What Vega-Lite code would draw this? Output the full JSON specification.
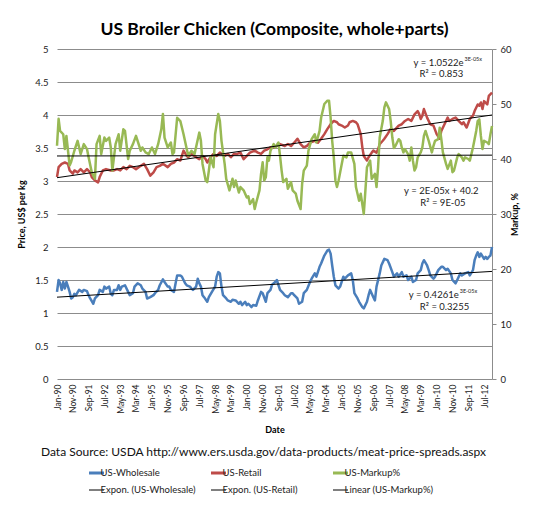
{
  "$schema": "https://vega.github.io/schema/vega-lite/v6.json",
  "width": 435,
  "height": 330,
  "autosize": {"type": "none"},
  "padding": {"left": 57, "top": 49, "right": 53, "bottom": 136},
  "title": {
    "text": "US Broiler Chicken (Composite, whole+parts)",
    "font": "Lato",
    "fontSize": 17.5,
    "fontWeight": "bold",
    "color": "#000000",
    "anchor": "middle",
    "frame": "group",
    "offset": 6
  },
  "datasets": {
    "w": [
      {"d": "1990/1/1", "v": 1.32}, {"d": "1990/2/1", "v": 1.50}, {"d": "1990/3/1", "v": 1.45}, {"d": "1990/4/1", "v": 1.35},
      {"d": "1990/5/1", "v": 1.47}, {"d": "1990/6/1", "v": 1.37}, {"d": "1990/7/1", "v": 1.47}, {"d": "1990/8/1", "v": 1.40},
      {"d": "1990/9/1", "v": 1.32}, {"d": "1990/10/1", "v": 1.22}, {"d": "1990/11/1", "v": 1.24}, {"d": "1990/12/1", "v": 1.29},
      {"d": "1991/1/1", "v": 1.27}, {"d": "1991/3/1", "v": 1.35}, {"d": "1991/5/1", "v": 1.32}, {"d": "1991/6/1", "v": 1.35},
      {"d": "1991/8/1", "v": 1.33}, {"d": "1991/9/1", "v": 1.27}, {"d": "1991/10/1", "v": 1.22}, {"d": "1991/12/1", "v": 1.14},
      {"d": "1992/1/1", "v": 1.22}, {"d": "1992/3/1", "v": 1.27}, {"d": "1992/4/1", "v": 1.35}, {"d": "1992/6/1", "v": 1.32},
      {"d": "1992/7/1", "v": 1.40}, {"d": "1992/8/1", "v": 1.37}, {"d": "1992/10/1", "v": 1.40}, {"d": "1992/11/1", "v": 1.29},
      {"d": "1992/12/1", "v": 1.27}, {"d": "1993/1/1", "v": 1.35}, {"d": "1993/3/1", "v": 1.35}, {"d": "1993/4/1", "v": 1.42},
      {"d": "1993/5/1", "v": 1.35}, {"d": "1993/6/1", "v": 1.40}, {"d": "1993/8/1", "v": 1.42}, {"d": "1993/10/1", "v": 1.32},
      {"d": "1993/11/1", "v": 1.27}, {"d": "1994/1/1", "v": 1.30}, {"d": "1994/2/1", "v": 1.40}, {"d": "1994/4/1", "v": 1.45},
      {"d": "1994/6/1", "v": 1.42}, {"d": "1994/7/1", "v": 1.37}, {"d": "1994/9/1", "v": 1.32}, {"d": "1994/10/1", "v": 1.22},
      {"d": "1994/12/1", "v": 1.24}, {"d": "1995/2/1", "v": 1.27}, {"d": "1995/3/1", "v": 1.30}, {"d": "1995/5/1", "v": 1.35},
      {"d": "1995/6/1", "v": 1.42}, {"d": "1995/8/1", "v": 1.51}, {"d": "1995/9/1", "v": 1.47}, {"d": "1995/11/1", "v": 1.40},
      {"d": "1995/12/1", "v": 1.40}, {"d": "1996/1/1", "v": 1.35}, {"d": "1996/3/1", "v": 1.32}, {"d": "1996/4/1", "v": 1.45},
      {"d": "1996/5/1", "v": 1.57}, {"d": "1996/7/1", "v": 1.57}, {"d": "1996/8/1", "v": 1.55}, {"d": "1996/10/1", "v": 1.45},
      {"d": "1996/11/1", "v": 1.42}, {"d": "1997/1/1", "v": 1.40}, {"d": "1997/2/1", "v": 1.37}, {"d": "1997/3/1", "v": 1.35},
      {"d": "1997/5/1", "v": 1.40}, {"d": "1997/6/1", "v": 1.52}, {"d": "1997/7/1", "v": 1.45}, {"d": "1997/8/1", "v": 1.40},
      {"d": "1997/9/1", "v": 1.27}, {"d": "1997/10/1", "v": 1.24}, {"d": "1997/12/1", "v": 1.17}, {"d": "1998/1/1", "v": 1.24},
      {"d": "1998/3/1", "v": 1.32}, {"d": "1998/5/1", "v": 1.40}, {"d": "1998/6/1", "v": 1.55}, {"d": "1998/7/1", "v": 1.62},
      {"d": "1998/8/1", "v": 1.60}, {"d": "1998/9/1", "v": 1.40}, {"d": "1998/10/1", "v": 1.27}, {"d": "1998/12/1", "v": 1.22},
      {"d": "1999/1/1", "v": 1.19}, {"d": "1999/3/1", "v": 1.17}, {"d": "1999/4/1", "v": 1.20}, {"d": "1999/6/1", "v": 1.19},
      {"d": "1999/8/1", "v": 1.14}, {"d": "1999/9/1", "v": 1.17}, {"d": "1999/10/1", "v": 1.12}, {"d": "1999/12/1", "v": 1.17},
      {"d": "2000/1/1", "v": 1.12}, {"d": "2000/2/1", "v": 1.14}, {"d": "2000/4/1", "v": 1.09}, {"d": "2000/5/1", "v": 1.12},
      {"d": "2000/7/1", "v": 1.11}, {"d": "2000/8/1", "v": 1.19}, {"d": "2000/10/1", "v": 1.32}, {"d": "2000/11/1", "v": 1.30},
      {"d": "2001/1/1", "v": 1.17}, {"d": "2001/2/1", "v": 1.30}, {"d": "2001/4/1", "v": 1.35}, {"d": "2001/5/1", "v": 1.43},
      {"d": "2001/7/1", "v": 1.47}, {"d": "2001/8/1", "v": 1.50}, {"d": "2001/10/1", "v": 1.35}, {"d": "2001/12/1", "v": 1.30},
      {"d": "2002/1/1", "v": 1.27}, {"d": "2002/3/1", "v": 1.24}, {"d": "2002/5/1", "v": 1.30}, {"d": "2002/6/1", "v": 1.30},
      {"d": "2002/7/1", "v": 1.27}, {"d": "2002/9/1", "v": 1.22}, {"d": "2002/10/1", "v": 1.14}, {"d": "2002/12/1", "v": 1.17},
      {"d": "2003/1/1", "v": 1.30}, {"d": "2003/3/1", "v": 1.35}, {"d": "2003/5/1", "v": 1.47}, {"d": "2003/6/1", "v": 1.52},
      {"d": "2003/8/1", "v": 1.60}, {"d": "2003/9/1", "v": 1.55}, {"d": "2003/11/1", "v": 1.70}, {"d": "2003/12/1", "v": 1.75},
      {"d": "2004/2/1", "v": 1.87}, {"d": "2004/4/1", "v": 1.95}, {"d": "2004/5/1", "v": 1.96}, {"d": "2004/6/1", "v": 1.90},
      {"d": "2004/7/1", "v": 1.72}, {"d": "2004/8/1", "v": 1.55}, {"d": "2004/9/1", "v": 1.42}, {"d": "2004/11/1", "v": 1.37},
      {"d": "2004/12/1", "v": 1.40}, {"d": "2005/2/1", "v": 1.55}, {"d": "2005/3/1", "v": 1.52}, {"d": "2005/5/1", "v": 1.57},
      {"d": "2005/7/1", "v": 1.60}, {"d": "2005/8/1", "v": 1.50}, {"d": "2005/9/1", "v": 1.30}, {"d": "2005/11/1", "v": 1.22},
      {"d": "2005/12/1", "v": 1.17}, {"d": "2006/2/1", "v": 1.09}, {"d": "2006/3/1", "v": 1.07}, {"d": "2006/5/1", "v": 1.17},
      {"d": "2006/6/1", "v": 1.27}, {"d": "2006/7/1", "v": 1.35}, {"d": "2006/9/1", "v": 1.24}, {"d": "2006/10/1", "v": 1.19},
      {"d": "2006/11/1", "v": 1.40}, {"d": "2007/1/1", "v": 1.60}, {"d": "2007/2/1", "v": 1.72}, {"d": "2007/4/1", "v": 1.82},
      {"d": "2007/6/1", "v": 1.80}, {"d": "2007/7/1", "v": 1.75}, {"d": "2007/9/1", "v": 1.62}, {"d": "2007/10/1", "v": 1.55},
      {"d": "2007/12/1", "v": 1.60}, {"d": "2008/1/1", "v": 1.55}, {"d": "2008/3/1", "v": 1.62}, {"d": "2008/4/1", "v": 1.55},
      {"d": "2008/6/1", "v": 1.57}, {"d": "2008/7/1", "v": 1.50}, {"d": "2008/9/1", "v": 1.55}, {"d": "2008/10/1", "v": 1.47},
      {"d": "2008/12/1", "v": 1.50}, {"d": "2009/1/1", "v": 1.60}, {"d": "2009/3/1", "v": 1.65}, {"d": "2009/4/1", "v": 1.75},
      {"d": "2009/5/1", "v": 1.80}, {"d": "2009/7/1", "v": 1.72}, {"d": "2009/8/1", "v": 1.65}, {"d": "2009/9/1", "v": 1.57},
      {"d": "2009/11/1", "v": 1.52}, {"d": "2009/12/1", "v": 1.55}, {"d": "2010/2/1", "v": 1.65}, {"d": "2010/4/1", "v": 1.70},
      {"d": "2010/5/1", "v": 1.70}, {"d": "2010/7/1", "v": 1.65}, {"d": "2010/8/1", "v": 1.67}, {"d": "2010/10/1", "v": 1.60},
      {"d": "2010/11/1", "v": 1.50}, {"d": "2011/1/1", "v": 1.45}, {"d": "2011/2/1", "v": 1.50}, {"d": "2011/4/1", "v": 1.60},
      {"d": "2011/5/1", "v": 1.57}, {"d": "2011/7/1", "v": 1.60}, {"d": "2011/9/1", "v": 1.62}, {"d": "2011/10/1", "v": 1.57},
      {"d": "2011/12/1", "v": 1.65}, {"d": "2012/1/1", "v": 1.80}, {"d": "2012/2/1", "v": 1.87}, {"d": "2012/3/1", "v": 1.92},
      {"d": "2012/4/1", "v": 1.85}, {"d": "2012/5/1", "v": 1.90}, {"d": "2012/7/1", "v": 1.82}, {"d": "2012/8/1", "v": 1.85},
      {"d": "2012/9/1", "v": 1.82}, {"d": "2012/10/1", "v": 1.85}, {"d": "2012/11/1", "v": 1.87}, {"d": "2012/12/1", "v": 2.00}
    ],
    "r": [
      {"d": "1990/1/1", "v": 3.06}, {"d": "1990/2/1", "v": 3.21}, {"d": "1990/4/1", "v": 3.26}, {"d": "1990/6/1", "v": 3.28},
      {"d": "1990/8/1", "v": 3.26}, {"d": "1990/9/1", "v": 3.16}, {"d": "1990/11/1", "v": 3.11}, {"d": "1990/12/1", "v": 3.16},
      {"d": "1991/2/1", "v": 3.13}, {"d": "1991/4/1", "v": 3.18}, {"d": "1991/6/1", "v": 3.13}, {"d": "1991/8/1", "v": 3.18},
      {"d": "1991/10/1", "v": 3.13}, {"d": "1991/11/1", "v": 3.06}, {"d": "1992/1/1", "v": 3.01}, {"d": "1992/3/1", "v": 2.98},
      {"d": "1992/4/1", "v": 3.06}, {"d": "1992/6/1", "v": 3.16}, {"d": "1992/8/1", "v": 3.18}, {"d": "1992/11/1", "v": 3.16},
      {"d": "1993/1/1", "v": 3.16}, {"d": "1993/3/1", "v": 3.18}, {"d": "1993/5/1", "v": 3.16}, {"d": "1993/7/1", "v": 3.21},
      {"d": "1993/9/1", "v": 3.18}, {"d": "1993/11/1", "v": 3.23}, {"d": "1994/1/1", "v": 3.21}, {"d": "1994/3/1", "v": 3.18},
      {"d": "1994/6/1", "v": 3.23}, {"d": "1994/8/1", "v": 3.26}, {"d": "1994/10/1", "v": 3.18}, {"d": "1994/12/1", "v": 3.08},
      {"d": "1995/2/1", "v": 3.13}, {"d": "1995/4/1", "v": 3.21}, {"d": "1995/6/1", "v": 3.23}, {"d": "1995/8/1", "v": 3.26},
      {"d": "1995/11/1", "v": 3.21}, {"d": "1996/1/1", "v": 3.26}, {"d": "1996/3/1", "v": 3.28}, {"d": "1996/5/1", "v": 3.33},
      {"d": "1996/7/1", "v": 3.31}, {"d": "1996/9/1", "v": 3.46}, {"d": "1996/11/1", "v": 3.38}, {"d": "1996/12/1", "v": 3.36},
      {"d": "1997/2/1", "v": 3.41}, {"d": "1997/5/1", "v": 3.36}, {"d": "1997/7/1", "v": 3.33}, {"d": "1997/9/1", "v": 3.38},
      {"d": "1997/11/1", "v": 3.33}, {"d": "1997/12/1", "v": 3.28}, {"d": "1998/2/1", "v": 3.36}, {"d": "1998/4/1", "v": 3.41},
      {"d": "1998/6/1", "v": 3.38}, {"d": "1998/8/1", "v": 3.43}, {"d": "1998/11/1", "v": 3.38}, {"d": "1999/1/1", "v": 3.41},
      {"d": "1999/3/1", "v": 3.36}, {"d": "1999/5/1", "v": 3.41}, {"d": "1999/7/1", "v": 3.41}, {"d": "1999/9/1", "v": 3.43},
      {"d": "1999/11/1", "v": 3.33}, {"d": "2000/1/1", "v": 3.38}, {"d": "2000/3/1", "v": 3.43}, {"d": "2000/6/1", "v": 3.46},
      {"d": "2000/8/1", "v": 3.43}, {"d": "2000/10/1", "v": 3.41}, {"d": "2000/12/1", "v": 3.46}, {"d": "2001/2/1", "v": 3.48},
      {"d": "2001/4/1", "v": 3.51}, {"d": "2001/6/1", "v": 3.51}, {"d": "2001/8/1", "v": 3.53}, {"d": "2001/10/1", "v": 3.56},
      {"d": "2002/1/1", "v": 3.53}, {"d": "2002/3/1", "v": 3.56}, {"d": "2002/5/1", "v": 3.53}, {"d": "2002/7/1", "v": 3.58},
      {"d": "2002/9/1", "v": 3.64}, {"d": "2002/11/1", "v": 3.56}, {"d": "2003/1/1", "v": 3.51}, {"d": "2003/3/1", "v": 3.53},
      {"d": "2003/5/1", "v": 3.58}, {"d": "2003/8/1", "v": 3.61}, {"d": "2003/10/1", "v": 3.58}, {"d": "2003/12/1", "v": 3.64},
      {"d": "2004/2/1", "v": 3.71}, {"d": "2004/4/1", "v": 3.79}, {"d": "2004/6/1", "v": 3.86}, {"d": "2004/8/1", "v": 3.91},
      {"d": "2004/10/1", "v": 3.89}, {"d": "2004/11/1", "v": 3.86}, {"d": "2005/1/1", "v": 3.84}, {"d": "2005/3/1", "v": 3.81},
      {"d": "2005/5/1", "v": 3.84}, {"d": "2005/6/1", "v": 3.89}, {"d": "2005/8/1", "v": 3.91}, {"d": "2005/10/1", "v": 3.89},
      {"d": "2005/11/1", "v": 3.86}, {"d": "2006/1/1", "v": 3.71}, {"d": "2006/2/1", "v": 3.51}, {"d": "2006/3/1", "v": 3.38},
      {"d": "2006/5/1", "v": 3.31}, {"d": "2006/6/1", "v": 3.36}, {"d": "2006/8/1", "v": 3.43}, {"d": "2006/9/1", "v": 3.46},
      {"d": "2006/11/1", "v": 3.43}, {"d": "2006/12/1", "v": 3.48}, {"d": "2007/1/1", "v": 3.56}, {"d": "2007/3/1", "v": 3.61},
      {"d": "2007/4/1", "v": 3.64}, {"d": "2007/6/1", "v": 3.71}, {"d": "2007/8/1", "v": 3.79}, {"d": "2007/10/1", "v": 3.76},
      {"d": "2008/1/1", "v": 3.84}, {"d": "2008/3/1", "v": 3.86}, {"d": "2008/5/1", "v": 3.91}, {"d": "2008/7/1", "v": 3.94},
      {"d": "2008/9/1", "v": 3.91}, {"d": "2008/11/1", "v": 4.01}, {"d": "2009/1/1", "v": 4.06}, {"d": "2009/2/1", "v": 4.01},
      {"d": "2009/3/1", "v": 3.94}, {"d": "2009/4/1", "v": 3.99}, {"d": "2009/5/1", "v": 4.09}, {"d": "2009/7/1", "v": 3.96},
      {"d": "2009/9/1", "v": 3.86}, {"d": "2009/11/1", "v": 3.84}, {"d": "2010/1/1", "v": 3.71}, {"d": "2010/3/1", "v": 3.64},
      {"d": "2010/4/1", "v": 3.76}, {"d": "2010/6/1", "v": 3.86}, {"d": "2010/8/1", "v": 3.96}, {"d": "2010/9/1", "v": 3.91},
      {"d": "2010/11/1", "v": 3.94}, {"d": "2011/1/1", "v": 3.96}, {"d": "2011/3/1", "v": 3.91}, {"d": "2011/5/1", "v": 3.86},
      {"d": "2011/6/1", "v": 3.89}, {"d": "2011/8/1", "v": 3.81}, {"d": "2011/10/1", "v": 3.94}, {"d": "2011/12/1", "v": 3.99},
      {"d": "2012/1/1", "v": 4.06}, {"d": "2012/3/1", "v": 4.16}, {"d": "2012/4/1", "v": 4.14}, {"d": "2012/5/1", "v": 4.19},
      {"d": "2012/6/1", "v": 4.09}, {"d": "2012/7/1", "v": 4.21}, {"d": "2012/9/1", "v": 4.16}, {"d": "2012/10/1", "v": 4.29},
      {"d": "2012/12/1", "v": 4.34}
    ],
    "m": [
      {"d": "1990/1/1", "v": 42.4}, {"d": "1990/2/1", "v": 47.3}, {"d": "1990/3/1", "v": 45.1}, {"d": "1990/5/1", "v": 44.5},
      {"d": "1990/6/1", "v": 41.8}, {"d": "1990/7/1", "v": 44.2}, {"d": "1990/9/1", "v": 38.8}, {"d": "1990/10/1", "v": 39.5},
      {"d": "1990/12/1", "v": 41.5}, {"d": "1991/2/1", "v": 43.3}, {"d": "1991/4/1", "v": 40.9}, {"d": "1991/6/1", "v": 42.7},
      {"d": "1991/8/1", "v": 41.8}, {"d": "1991/9/1", "v": 40.3}, {"d": "1991/11/1", "v": 37.6}, {"d": "1992/1/1", "v": 36.4},
      {"d": "1992/2/1", "v": 42.7}, {"d": "1992/4/1", "v": 44.2}, {"d": "1992/5/1", "v": 40.9}, {"d": "1992/7/1", "v": 43.9},
      {"d": "1992/8/1", "v": 43.3}, {"d": "1992/10/1", "v": 43.9}, {"d": "1992/11/1", "v": 42.1}, {"d": "1992/12/1", "v": 37.9},
      {"d": "1993/2/1", "v": 42.7}, {"d": "1993/4/1", "v": 44.5}, {"d": "1993/5/1", "v": 41.5}, {"d": "1993/7/1", "v": 45.4},
      {"d": "1993/8/1", "v": 45.1}, {"d": "1993/10/1", "v": 40.0}, {"d": "1993/11/1", "v": 41.5}, {"d": "1994/1/1", "v": 42.7},
      {"d": "1994/3/1", "v": 44.2}, {"d": "1994/6/1", "v": 41.5}, {"d": "1994/7/1", "v": 42.1}, {"d": "1994/9/1", "v": 41.2},
      {"d": "1994/11/1", "v": 40.9}, {"d": "1995/1/1", "v": 42.1}, {"d": "1995/3/1", "v": 40.9}, {"d": "1995/5/1", "v": 42.7},
      {"d": "1995/7/1", "v": 45.4}, {"d": "1995/8/1", "v": 48.2}, {"d": "1995/9/1", "v": 43.9}, {"d": "1995/11/1", "v": 42.1},
      {"d": "1996/1/1", "v": 43.0}, {"d": "1996/2/1", "v": 40.9}, {"d": "1996/3/1", "v": 41.2}, {"d": "1996/5/1", "v": 47.5},
      {"d": "1996/7/1", "v": 46.9}, {"d": "1996/9/1", "v": 44.5}, {"d": "1996/11/1", "v": 41.8}, {"d": "1996/12/1", "v": 40.6},
      {"d": "1997/2/1", "v": 41.5}, {"d": "1997/4/1", "v": 40.9}, {"d": "1997/7/1", "v": 44.8}, {"d": "1997/8/1", "v": 43.3},
      {"d": "1997/9/1", "v": 39.1}, {"d": "1997/11/1", "v": 36.1}, {"d": "1997/12/1", "v": 35.8}, {"d": "1998/1/1", "v": 37.9},
      {"d": "1998/2/1", "v": 40.3}, {"d": "1998/4/1", "v": 38.5}, {"d": "1998/5/1", "v": 44.5}, {"d": "1998/7/1", "v": 48.2},
      {"d": "1998/8/1", "v": 46.9}, {"d": "1998/9/1", "v": 43.3}, {"d": "1998/11/1", "v": 39.1}, {"d": "1998/12/1", "v": 36.4},
      {"d": "1999/2/1", "v": 34.3}, {"d": "1999/4/1", "v": 36.4}, {"d": "1999/5/1", "v": 34.9}, {"d": "1999/6/1", "v": 36.1},
      {"d": "1999/8/1", "v": 33.9}, {"d": "1999/9/1", "v": 34.9}, {"d": "1999/11/1", "v": 34.3}, {"d": "2000/1/1", "v": 33.0},
      {"d": "2000/2/1", "v": 33.2}, {"d": "2000/3/1", "v": 31.8}, {"d": "2000/5/1", "v": 32.7}, {"d": "2000/6/1", "v": 30.9},
      {"d": "2000/7/1", "v": 32.1}, {"d": "2000/9/1", "v": 34.3}, {"d": "2000/10/1", "v": 37.3}, {"d": "2000/11/1", "v": 39.4},
      {"d": "2000/12/1", "v": 36.1}, {"d": "2001/1/1", "v": 36.7}, {"d": "2001/2/1", "v": 40.3}, {"d": "2001/3/1", "v": 39.7},
      {"d": "2001/4/1", "v": 41.5}, {"d": "2001/6/1", "v": 42.7}, {"d": "2001/7/1", "v": 42.1}, {"d": "2001/9/1", "v": 43.0},
      {"d": "2001/10/1", "v": 40.6}, {"d": "2001/11/1", "v": 37.9}, {"d": "2001/12/1", "v": 35.8}, {"d": "2002/2/1", "v": 36.4},
      {"d": "2002/3/1", "v": 34.6}, {"d": "2002/5/1", "v": 35.8}, {"d": "2002/6/1", "v": 34.3}, {"d": "2002/8/1", "v": 33.7},
      {"d": "2002/9/1", "v": 32.4}, {"d": "2002/11/1", "v": 30.9}, {"d": "2002/12/1", "v": 35.5}, {"d": "2003/1/1", "v": 37.9},
      {"d": "2003/3/1", "v": 38.8}, {"d": "2003/4/1", "v": 41.5}, {"d": "2003/6/1", "v": 43.6}, {"d": "2003/8/1", "v": 44.5},
      {"d": "2003/9/1", "v": 43.0}, {"d": "2003/11/1", "v": 45.1}, {"d": "2003/12/1", "v": 47.5}, {"d": "2004/2/1", "v": 50.0},
      {"d": "2004/4/1", "v": 50.6}, {"d": "2004/5/1", "v": 50.6}, {"d": "2004/6/1", "v": 47.5}, {"d": "2004/7/1", "v": 43.3},
      {"d": "2004/8/1", "v": 40.3}, {"d": "2004/9/1", "v": 36.1}, {"d": "2004/10/1", "v": 34.9}, {"d": "2004/11/1", "v": 36.1},
      {"d": "2005/1/1", "v": 39.1}, {"d": "2005/2/1", "v": 40.6}, {"d": "2005/4/1", "v": 40.3}, {"d": "2005/5/1", "v": 41.2},
      {"d": "2005/7/1", "v": 41.2}, {"d": "2005/9/1", "v": 39.1}, {"d": "2005/10/1", "v": 34.9}, {"d": "2005/12/1", "v": 32.4},
      {"d": "2006/1/1", "v": 33.7}, {"d": "2006/3/1", "v": 30.0}, {"d": "2006/4/1", "v": 34.3}, {"d": "2006/5/1", "v": 38.5},
      {"d": "2006/7/1", "v": 39.7}, {"d": "2006/8/1", "v": 36.4}, {"d": "2006/10/1", "v": 37.3}, {"d": "2006/11/1", "v": 34.9},
      {"d": "2006/12/1", "v": 38.5}, {"d": "2007/1/1", "v": 43.9}, {"d": "2007/3/1", "v": 46.9}, {"d": "2007/4/1", "v": 49.4},
      {"d": "2007/5/1", "v": 50.3}, {"d": "2007/7/1", "v": 49.1}, {"d": "2007/8/1", "v": 46.9}, {"d": "2007/9/1", "v": 43.9},
      {"d": "2007/10/1", "v": 42.0}, {"d": "2007/11/1", "v": 42.4}, {"d": "2008/1/1", "v": 43.6}, {"d": "2008/2/1", "v": 43.3},
      {"d": "2008/3/1", "v": 42.1}, {"d": "2008/4/1", "v": 41.2}, {"d": "2008/5/1", "v": 41.8}, {"d": "2008/7/1", "v": 40.9},
      {"d": "2008/8/1", "v": 39.7}, {"d": "2008/9/1", "v": 42.1}, {"d": "2008/10/1", "v": 39.7}, {"d": "2008/11/1", "v": 37.9},
      {"d": "2008/12/1", "v": 38.5}, {"d": "2009/1/1", "v": 40.3}, {"d": "2009/3/1", "v": 41.2}, {"d": "2009/4/1", "v": 42.1},
      {"d": "2009/5/1", "v": 44.2}, {"d": "2009/6/1", "v": 45.1}, {"d": "2009/8/1", "v": 43.3}, {"d": "2009/10/1", "v": 41.2},
      {"d": "2009/11/1", "v": 42.4}, {"d": "2009/12/1", "v": 43.3}, {"d": "2010/2/1", "v": 43.6}, {"d": "2010/3/1", "v": 45.7},
      {"d": "2010/4/1", "v": 43.6}, {"d": "2010/5/1", "v": 41.2}, {"d": "2010/7/1", "v": 39.1}, {"d": "2010/8/1", "v": 38.2},
      {"d": "2010/10/1", "v": 39.7}, {"d": "2010/11/1", "v": 37.6}, {"d": "2010/12/1", "v": 37.9}, {"d": "2011/2/1", "v": 40.3},
      {"d": "2011/3/1", "v": 40.9}, {"d": "2011/5/1", "v": 40.3}, {"d": "2011/6/1", "v": 39.7}, {"d": "2011/7/1", "v": 40.3},
      {"d": "2011/9/1", "v": 40.0}, {"d": "2011/10/1", "v": 39.7}, {"d": "2011/12/1", "v": 42.1}, {"d": "2012/1/1", "v": 43.6},
      {"d": "2012/2/1", "v": 45.1}, {"d": "2012/3/1", "v": 46.9}, {"d": "2012/4/1", "v": 47.2}, {"d": "2012/5/1", "v": 44.2},
      {"d": "2012/6/1", "v": 41.8}, {"d": "2012/7/1", "v": 43.3}, {"d": "2012/9/1", "v": 43.0}, {"d": "2012/10/1", "v": 42.7},
      {"d": "2012/11/1", "v": 44.5}, {"d": "2012/12/1", "v": 46.0}
    ],
    "tw": [{"d": "1990/1/1", "v": 1.24}, {"d": "2012/12/1", "v": 1.63}],
    "tr": [{"d": "1990/1/1", "v": 3.05}, {"d": "2012/12/1", "v": 4.0}],
    "tm": [{"d": "1990/1/1", "v": 40.55}, {"d": "2012/12/1", "v": 40.7}],
    "eq": [
      {"t": "y = 1.0522e", "d": "2011/6/1", "v": 4.79},
      {"t": "y = 0.4261e", "d": "2011/3/1", "v": 1.27}
    ],
    "sup": [
      {"t": "3E-05x", "d": "2011/6/1", "v": 4.79},
      {"t": "3E-05x", "d": "2011/3/1", "v": 1.27}
    ],
    "rr": [
      {"t": "R² = 0.853", "d": "2010/4/1", "v": 4.62},
      {"t": "y = 2E-05x + 40.2", "d": "2010/4/1", "v": 2.855},
      {"t": "R² = 9E-05", "d": "2010/5/1", "v": 2.674},
      {"t": "R² = 0.3255", "d": "2010/6/1", "v": 1.088}
    ]
  },
  "layer": [
    {
      "data": {"name": "w"},
      "mark": {"type": "line", "strokeJoin": "round", "strokeWidth": 2.5},
      "encoding": {
        "x": {
          "field": "d", "type": "temporal",
          "scale": {"domain": [{"year": 1990, "month": 1, "date": 1}, {"year": 2012, "month": 12, "date": 1}]},
          "axis": {
            "orient": "bottom",
            "values": [
              {"year": 1990, "month": 1}, {"year": 1990, "month": 11}, {"year": 1991, "month": 9}, {"year": 1992, "month": 7},
              {"year": 1993, "month": 5}, {"year": 1994, "month": 3}, {"year": 1995, "month": 1}, {"year": 1995, "month": 11},
              {"year": 1996, "month": 9}, {"year": 1997, "month": 7}, {"year": 1998, "month": 5}, {"year": 1999, "month": 3},
              {"year": 2000, "month": 1}, {"year": 2000, "month": 11}, {"year": 2001, "month": 9}, {"year": 2002, "month": 7},
              {"year": 2003, "month": 5}, {"year": 2004, "month": 3}, {"year": 2005, "month": 1}, {"year": 2005, "month": 11},
              {"year": 2006, "month": 9}, {"year": 2007, "month": 7}, {"year": 2008, "month": 5}, {"year": 2009, "month": 3},
              {"year": 2010, "month": 1}, {"year": 2010, "month": 11}, {"year": 2011, "month": 9}, {"year": 2012, "month": 7}
            ],
            "format": "%b-%y",
            "labelAngle": -90,
            "labelFontSize": 8.5,
            "labelPadding": 5,
            "labelOverlap": false,
            "labelFlush": false,
            "ticks": false,
            "domain": false,
            "grid": false,
            "title": "Date",
            "titleFontSize": 9,
            "titleFontWeight": "bold",
            "titlePadding": 12
          }
        },
        "y": {
          "field": "v", "type": "quantitative",
          "scale": {"domain": [0, 5], "nice": false, "zero": false},
          "axis": {
            "values": [0, 0.5, 1, 1.5, 2, 2.5, 3, 3.5, 4, 4.5, 5],
            "format": "~g",
            "grid": true,
            "gridColor": "#8c8c8c",
            "domain": false,
            "ticks": false,
            "labelPadding": 9,
            "labelFontSize": 9.5,
            "title": "Price, US$ per kg",
            "titleFontSize": 9,
            "titleFontWeight": "bold",
            "titlePadding": 8
          }
        },
        "color": {
          "datum": "US-Wholesale", "type": "nominal",
          "scale": {
            "domain": ["US-Wholesale", "US-Retail", "US-Markup%", "Expon. (US-Wholesale)", "Expon. (US-Retail)", "Linear (US-Markup%)"],
            "range": ["#4a7ebb", "#be4b48", "#98b954", "#000000", "#000000", "#000000"]
          },
          "legend": {
            "title": null,
            "labelExpr": "datum.label == 'Expon. (US-Retail)' ? datum.label + '\u2003\u2003\u2002' : datum.label",
            "encode": {"symbols": {"update": {"strokeWidth": {"signal": "datum.index >= 3 ? 1 : 3"}}}}
          }
        }
      }
    },
    {
      "data": {"name": "r"},
      "mark": {"type": "line", "strokeJoin": "round", "strokeWidth": 2.5},
      "encoding": {
        "x": {"field": "d", "type": "temporal", "axis": null},
        "y": {"field": "v", "type": "quantitative", "scale": {"domain": [0, 5], "nice": false, "zero": false}, "axis": null},
        "color": {"datum": "US-Retail", "type": "nominal", "legend": {"title": null}}
      }
    },
    {
      "data": {"name": "m"},
      "mark": {"type": "line", "strokeJoin": "round", "strokeWidth": 2.5},
      "encoding": {
        "x": {
          "field": "d", "type": "temporal",
          "axis": {
            "orient": "bottom",
            "labels": false, "ticks": false, "domain": false, "grid": false,
            "title": "Data Source: USDA http://www.ers.usda.gov/data-products/meat-price-spreads.aspx",
            "titleFontSize": 12, "titleFontWeight": "normal", "titleColor": "#111111",
            "titlePadding": 67, "titleX": 206
          }
        },
        "y": {
          "field": "v", "type": "quantitative",
          "scale": {"domain": [0, 60], "nice": false, "zero": false},
          "axis": {
            "orient": "right",
            "values": [0, 10, 20, 30, 40, 50, 60],
            "grid": false,
            "domain": true,
            "domainColor": "#8c8c8c",
            "ticks": true,
            "tickColor": "#8c8c8c",
            "tickSize": 4,
            "labelPadding": 4,
            "labelFontSize": 9.5,
            "title": "Markup, %",
            "titleAngle": 270,
            "titleFontSize": 9,
            "titleFontWeight": "bold",
            "titlePadding": 8
          }
        },
        "color": {"datum": "US-Markup%", "type": "nominal", "legend": {"title": null}}
      }
    },
    {
      "data": {"name": "tw"},
      "mark": {"type": "line", "strokeWidth": 1},
      "encoding": {
        "x": {"field": "d", "type": "temporal", "axis": null},
        "y": {"field": "v", "type": "quantitative", "scale": {"domain": [0, 5], "nice": false, "zero": false}, "axis": null},
        "color": {"datum": "Expon. (US-Wholesale)", "type": "nominal", "legend": {"title": null}}
      }
    },
    {
      "data": {"name": "tr"},
      "mark": {"type": "line", "strokeWidth": 1},
      "encoding": {
        "x": {"field": "d", "type": "temporal", "axis": null},
        "y": {"field": "v", "type": "quantitative", "scale": {"domain": [0, 5], "nice": false, "zero": false}, "axis": null},
        "color": {"datum": "Expon. (US-Retail)", "type": "nominal", "legend": {"title": null}}
      }
    },
    {
      "data": {"name": "tm"},
      "mark": {"type": "line", "strokeWidth": 1},
      "encoding": {
        "x": {"field": "d", "type": "temporal", "axis": null},
        "y": {"field": "v", "type": "quantitative", "scale": {"domain": [0, 60], "nice": false, "zero": false}, "axis": null},
        "color": {"datum": "Linear (US-Markup%)", "type": "nominal", "legend": {"title": null}}
      }
    },
    {
      "data": {"name": "eq"},
      "mark": {"type": "text", "align": "right", "baseline": "middle", "fontSize": 9.5, "color": "#222222"},
      "encoding": {
        "x": {"field": "d", "type": "temporal", "axis": null},
        "y": {"field": "v", "type": "quantitative", "scale": {"domain": [0, 5], "nice": false, "zero": false}, "axis": null},
        "text": {"field": "t"}
      }
    },
    {
      "data": {"name": "sup"},
      "mark": {"type": "text", "align": "left", "baseline": "middle", "fontSize": 5.5, "dx": 1, "dy": -4, "color": "#222222"},
      "encoding": {
        "x": {"field": "d", "type": "temporal", "axis": null},
        "y": {"field": "v", "type": "quantitative", "scale": {"domain": [0, 5], "nice": false, "zero": false}, "axis": null},
        "text": {"field": "t"}
      }
    },
    {
      "data": {"name": "rr"},
      "mark": {"type": "text", "align": "center", "baseline": "middle", "fontSize": 9.5, "color": "#222222"},
      "encoding": {
        "x": {"field": "d", "type": "temporal", "axis": null},
        "y": {"field": "v", "type": "quantitative", "scale": {"domain": [0, 5], "nice": false, "zero": false}, "axis": null},
        "text": {"field": "t"}
      }
    }
  ],
  "resolve": {"scale": {"y": "independent"}, "axis": {"x": "independent"}},
  "config": {
    "view": {"stroke": null},
    "font": "Lato",
    "axis": {"labelFont": "Lato", "titleFont": "Lato", "labelColor": "#222222", "titleColor": "#000000"},
    "legend": {
      "orient": "none",
      "legendX": 32,
      "legendY": 417,
      "direction": "horizontal",
      "columns": 3,
      "gridAlign": "all",
      "symbolType": "stroke",
      "symbolSize": 420,
      "symbolStrokeWidth": 3,
      "clipHeight": 14,
      "labelFont": "Lato",
      "labelFontSize": 9.5,
      "labelColor": "#222222",
      "labelOffset": 2,
      "columnPadding": 15,
      "rowPadding": 3
    },
    "text": {"font": "Lato"}
  }
}
